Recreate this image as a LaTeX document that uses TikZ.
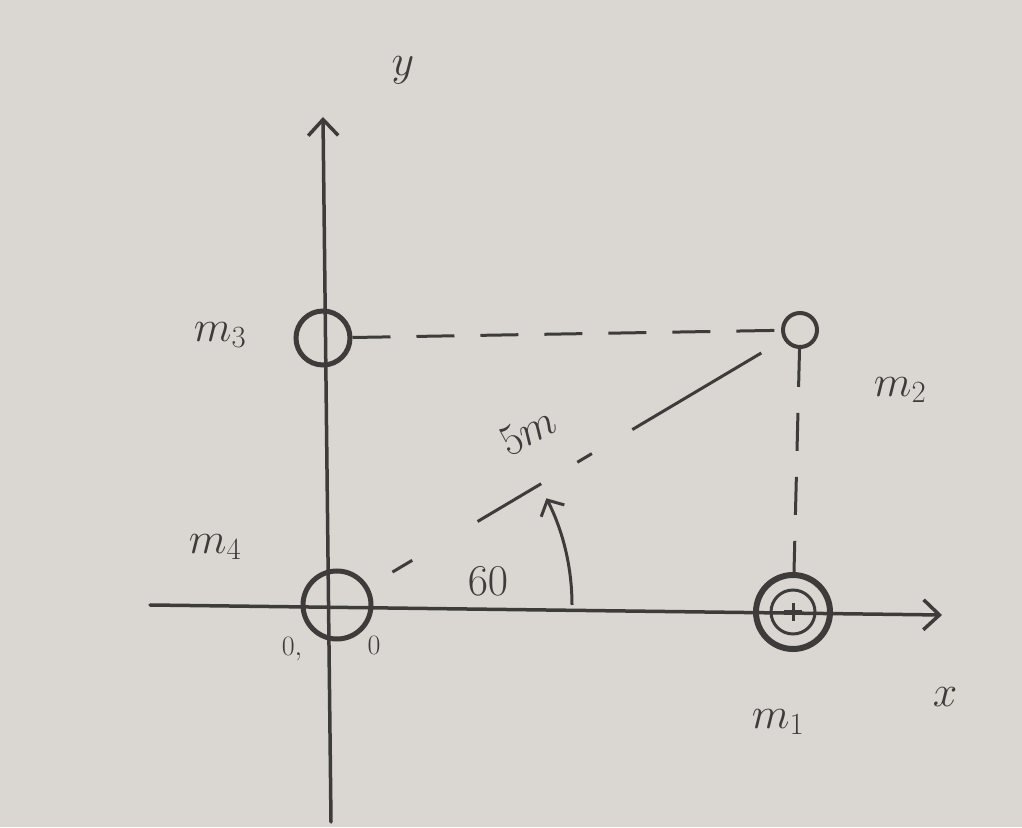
\RequirePackage{fix-cm}
\documentclass[tikz,border=0pt]{standalone}
\usetikzlibrary{arrows.meta}
\definecolor{paper}{RGB}{218,215,211}
\definecolor{pencil}{RGB}{62,60,58}
\begin{document}
\begin{tikzpicture}[x=1pt,y=1pt,
  axis/.style={draw=pencil,line width=3.5pt,line cap=round},
  mass/.style={circle,draw=pencil,line width=5pt,inner sep=0pt},
  dashline/.style={draw=pencil,line width=3pt,dash pattern=on 38pt off 26pt},
  lbl/.style={text=pencil,font=\fontsize{44}{48}\selectfont},
  tip/.style={-{Straight Barb[length=16pt,width=30pt,line width=3.5pt]}}]
\fill[paper] (0,0) rectangle (1022,827);
\useasboundingbox (0,0) rectangle (1022,827);
% axes
\coordinate (ybot) at (331,5);
\coordinate (ytop) at (323,710);
\coordinate (xl) at (150,222);
\coordinate (xr) at (942,212);
\draw[axis,tip] (ybot) -- (ytop);
\draw[axis,tip] (xl) -- (xr);
% masses
\node[mass,minimum size=68pt] (m4) at (337,222) {};
\node[mass,minimum size=54pt] (m3) at (323,489) {};
\node[mass,minimum size=34pt,line width=4pt] (m2) at (800,497) {};
\node[mass,minimum size=74pt,line width=6pt] (m1) at (793,215) {};
\node[circle,draw=pencil,line width=3pt,minimum size=44pt,inner sep=0pt] (m1in) at (m1) {};
\draw[pencil,line width=3pt] ([xshift=-9pt]m1.center) -- ([xshift=9pt]m1.center)
  ([yshift=-9pt]m1.center) -- ([yshift=9pt]m1.center);
% dashed lines
\draw[dashline] (m3) -- (m2);
\draw[dashline] (m2) -- (m1);
\draw[dashline,shorten <=28pt,
  dash pattern=on 23pt off 76pt on 74pt off 42pt on 17pt off 47pt on 150pt off 100pt] (m4) -- (m2);
% angle arc
\coordinate (arcstart) at (572,222);
\draw[pencil,line width=3pt,-{Straight Barb[length=12pt,width=26pt,line width=3pt]}]
  (arcstart) arc[start angle=0,end angle=27,radius=235];
% labels
\node[lbl] (ylab) at (403,757) {$y$};
\node[lbl] (xlab) at (945,130) {$x$};
\node[lbl] (l3) at (220,492) {$m_3$};
\node[lbl] (l2) at (900,437) {$m_2$};
\node[lbl] (l4) at (215,280) {$m_4$};
\node[lbl] (l1) at (778,105) {$m_1$};
\node[lbl,rotate=28] (l5) at (528,396) {$5m$};
\node[lbl] (l60) at (488,246) {$60$};
\node[text=pencil,font=\fontsize{28}{30}\selectfont] (o1) at (292,178) {$0,$};
\node[text=pencil,font=\fontsize{28}{30}\selectfont] (o2) at (374,182) {$0$};
\end{tikzpicture}
\end{document}
